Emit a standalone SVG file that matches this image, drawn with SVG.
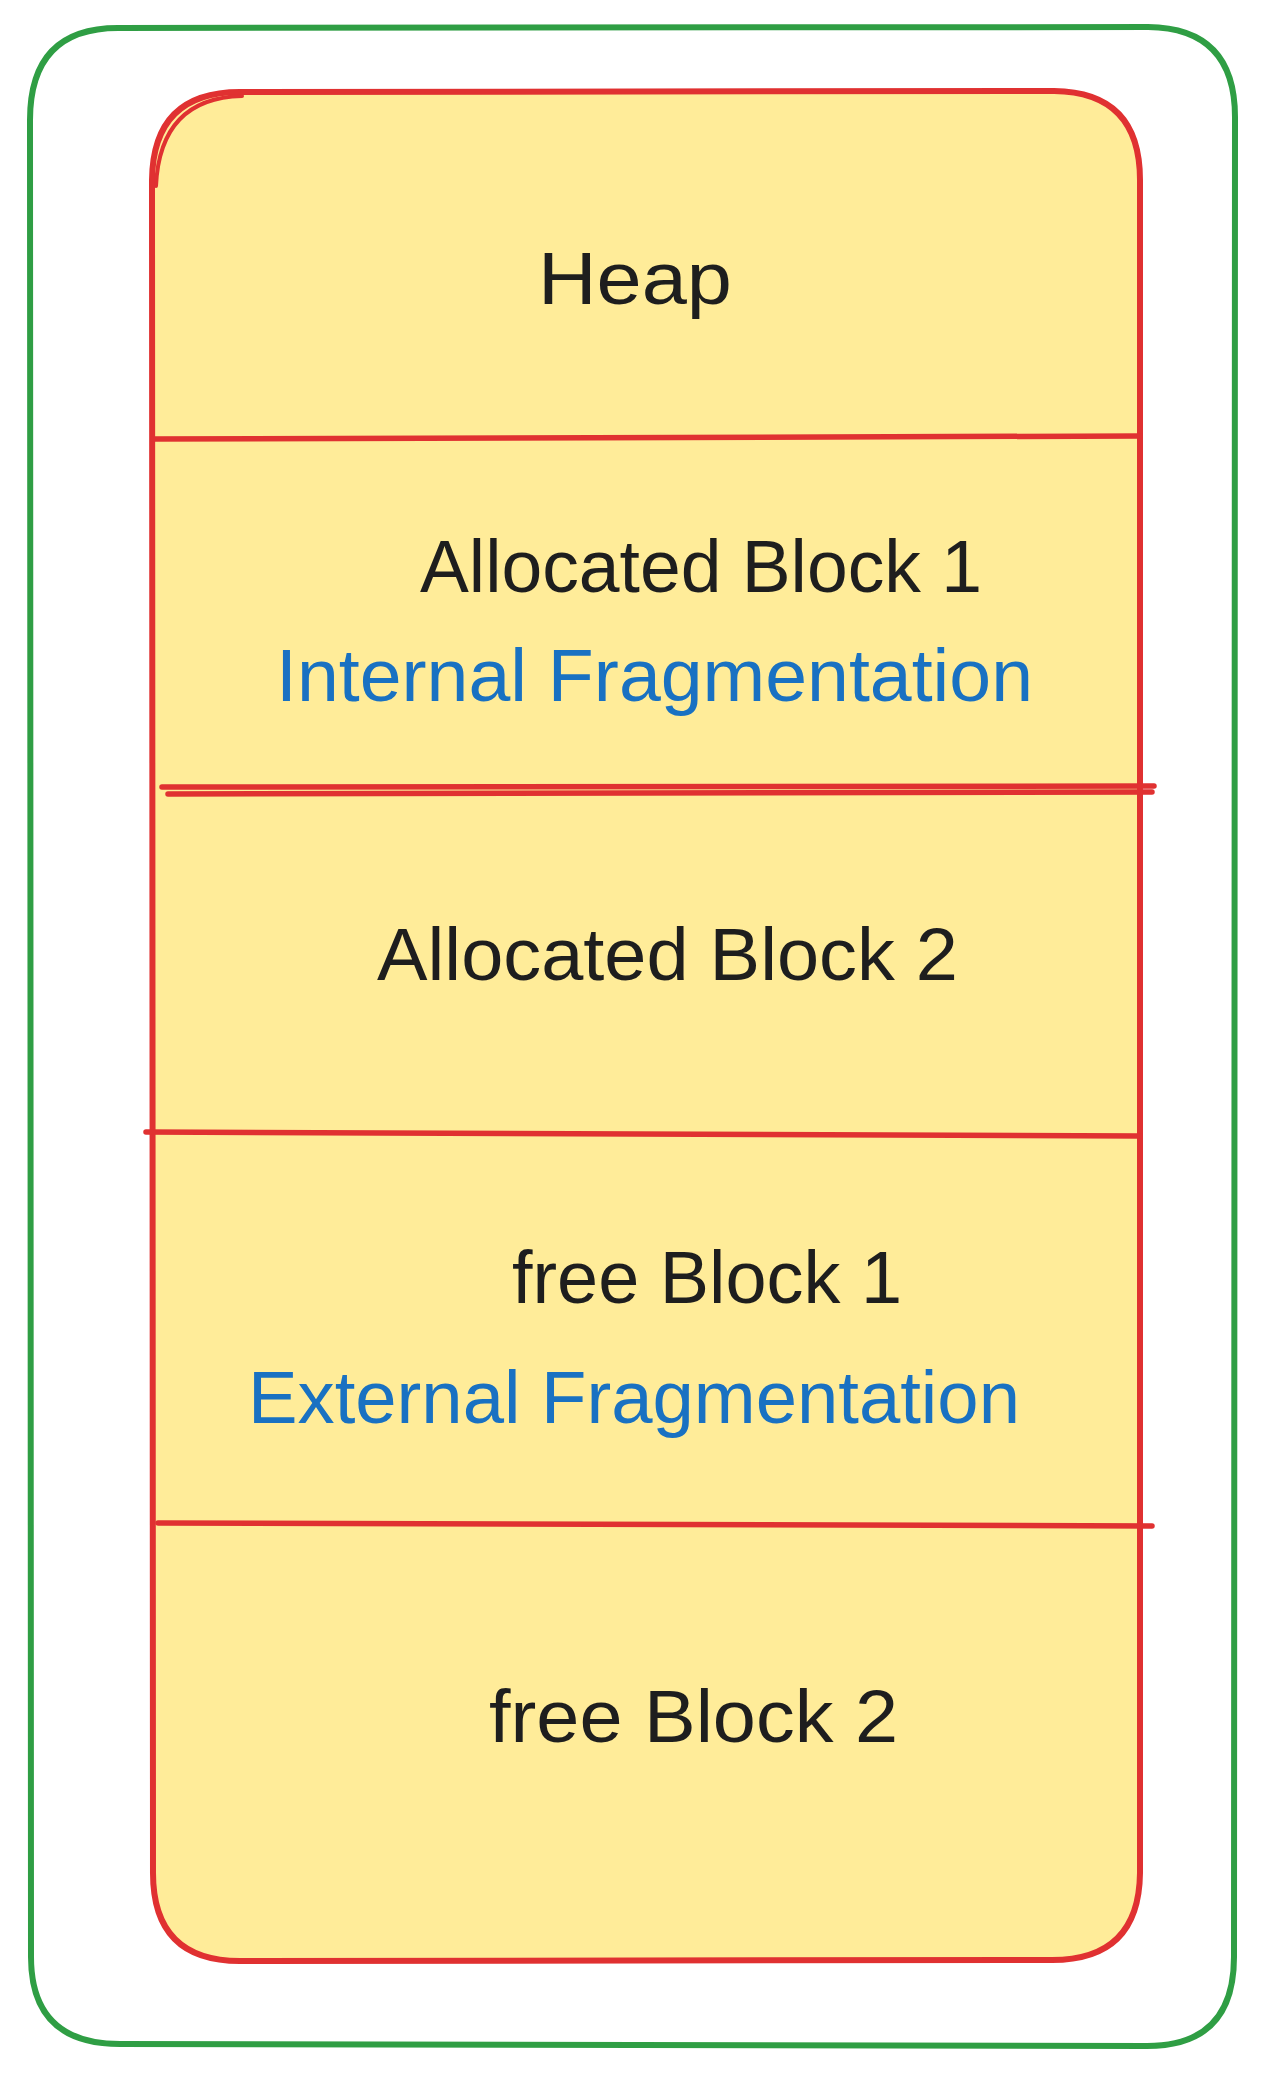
<svg xmlns="http://www.w3.org/2000/svg" width="1266" height="2075" viewBox="0 0 1266 2075">
<style>
.outer{fill:none;stroke:#2f9e44;stroke-width:6;stroke-linecap:round;stroke-linejoin:round}
.heapbox{fill:#ffec99;stroke:#e03131;stroke-width:6;stroke-linecap:round;stroke-linejoin:round}
.div{fill:none;stroke:#e03131;stroke-width:5.5;stroke-linecap:round}
.lbl{font-family:"Liberation Sans","DejaVu Sans",sans-serif;font-size:74px;fill:#1e1e1e}
.blue{fill:#1971c2}
</style>
<rect width="1266" height="2075" fill="#ffffff"/>
<g id="memory">
<path class="outer" d="M 118 28 L 1148 27 Q 1235 28 1235 117 L 1234 1957 Q 1234 2046 1147 2046 L 120 2044 Q 31 2044 31 1957 L 30 120 Q 30 28 118 28 Z"/>
</g>
<g id="heap">
<path class="heapbox" d="M 240 92 L 1054 91 Q 1140 92 1140 180 L 1140 1873 Q 1139 1960 1052 1960 L 240 1961 Q 153 1961 153 1873 L 152 180 Q 153 92 240 92 Z"/>
<path fill="none" stroke="#e03131" stroke-width="4" stroke-linecap="round" d="M 242 96 Q 160 98 156 186"/>
<text class="lbl" x="538" y="304" font-size="84" textLength="194" lengthAdjust="spacingAndGlyphs">Heap</text>
</g>
<g id="connectors">
<path class="div" stroke-width="8" d="M 153 439 L 1140 436"/>
<path class="div" d="M 162 787 L 1154 786"/>
<path class="div" d="M 168 794 L 1152 792"/>
<path class="div" d="M 146 1132 L 1140 1136"/>
<path class="div" d="M 158 1523 L 1152 1526"/>
</g>
<g id="allocated-block-1">
<text class="lbl" x="420" y="592" textLength="562" lengthAdjust="spacingAndGlyphs">Allocated Block 1</text>
<text class="lbl blue" x="276" y="701" textLength="757" lengthAdjust="spacingAndGlyphs">Internal Fragmentation</text>
</g>
<g id="allocated-block-2">
<text class="lbl" x="377" y="980" textLength="581" lengthAdjust="spacingAndGlyphs">Allocated Block 2</text>
</g>
<g id="free-block-1">
<text class="lbl" x="512" y="1303" textLength="390" lengthAdjust="spacingAndGlyphs">free Block 1</text>
<text class="lbl blue" x="248" y="1423" textLength="772" lengthAdjust="spacingAndGlyphs">External Fragmentation</text>
</g>
<g id="free-block-2">
<text class="lbl" x="489" y="1742" textLength="409" lengthAdjust="spacingAndGlyphs">free Block 2</text>
</g>
</svg>
